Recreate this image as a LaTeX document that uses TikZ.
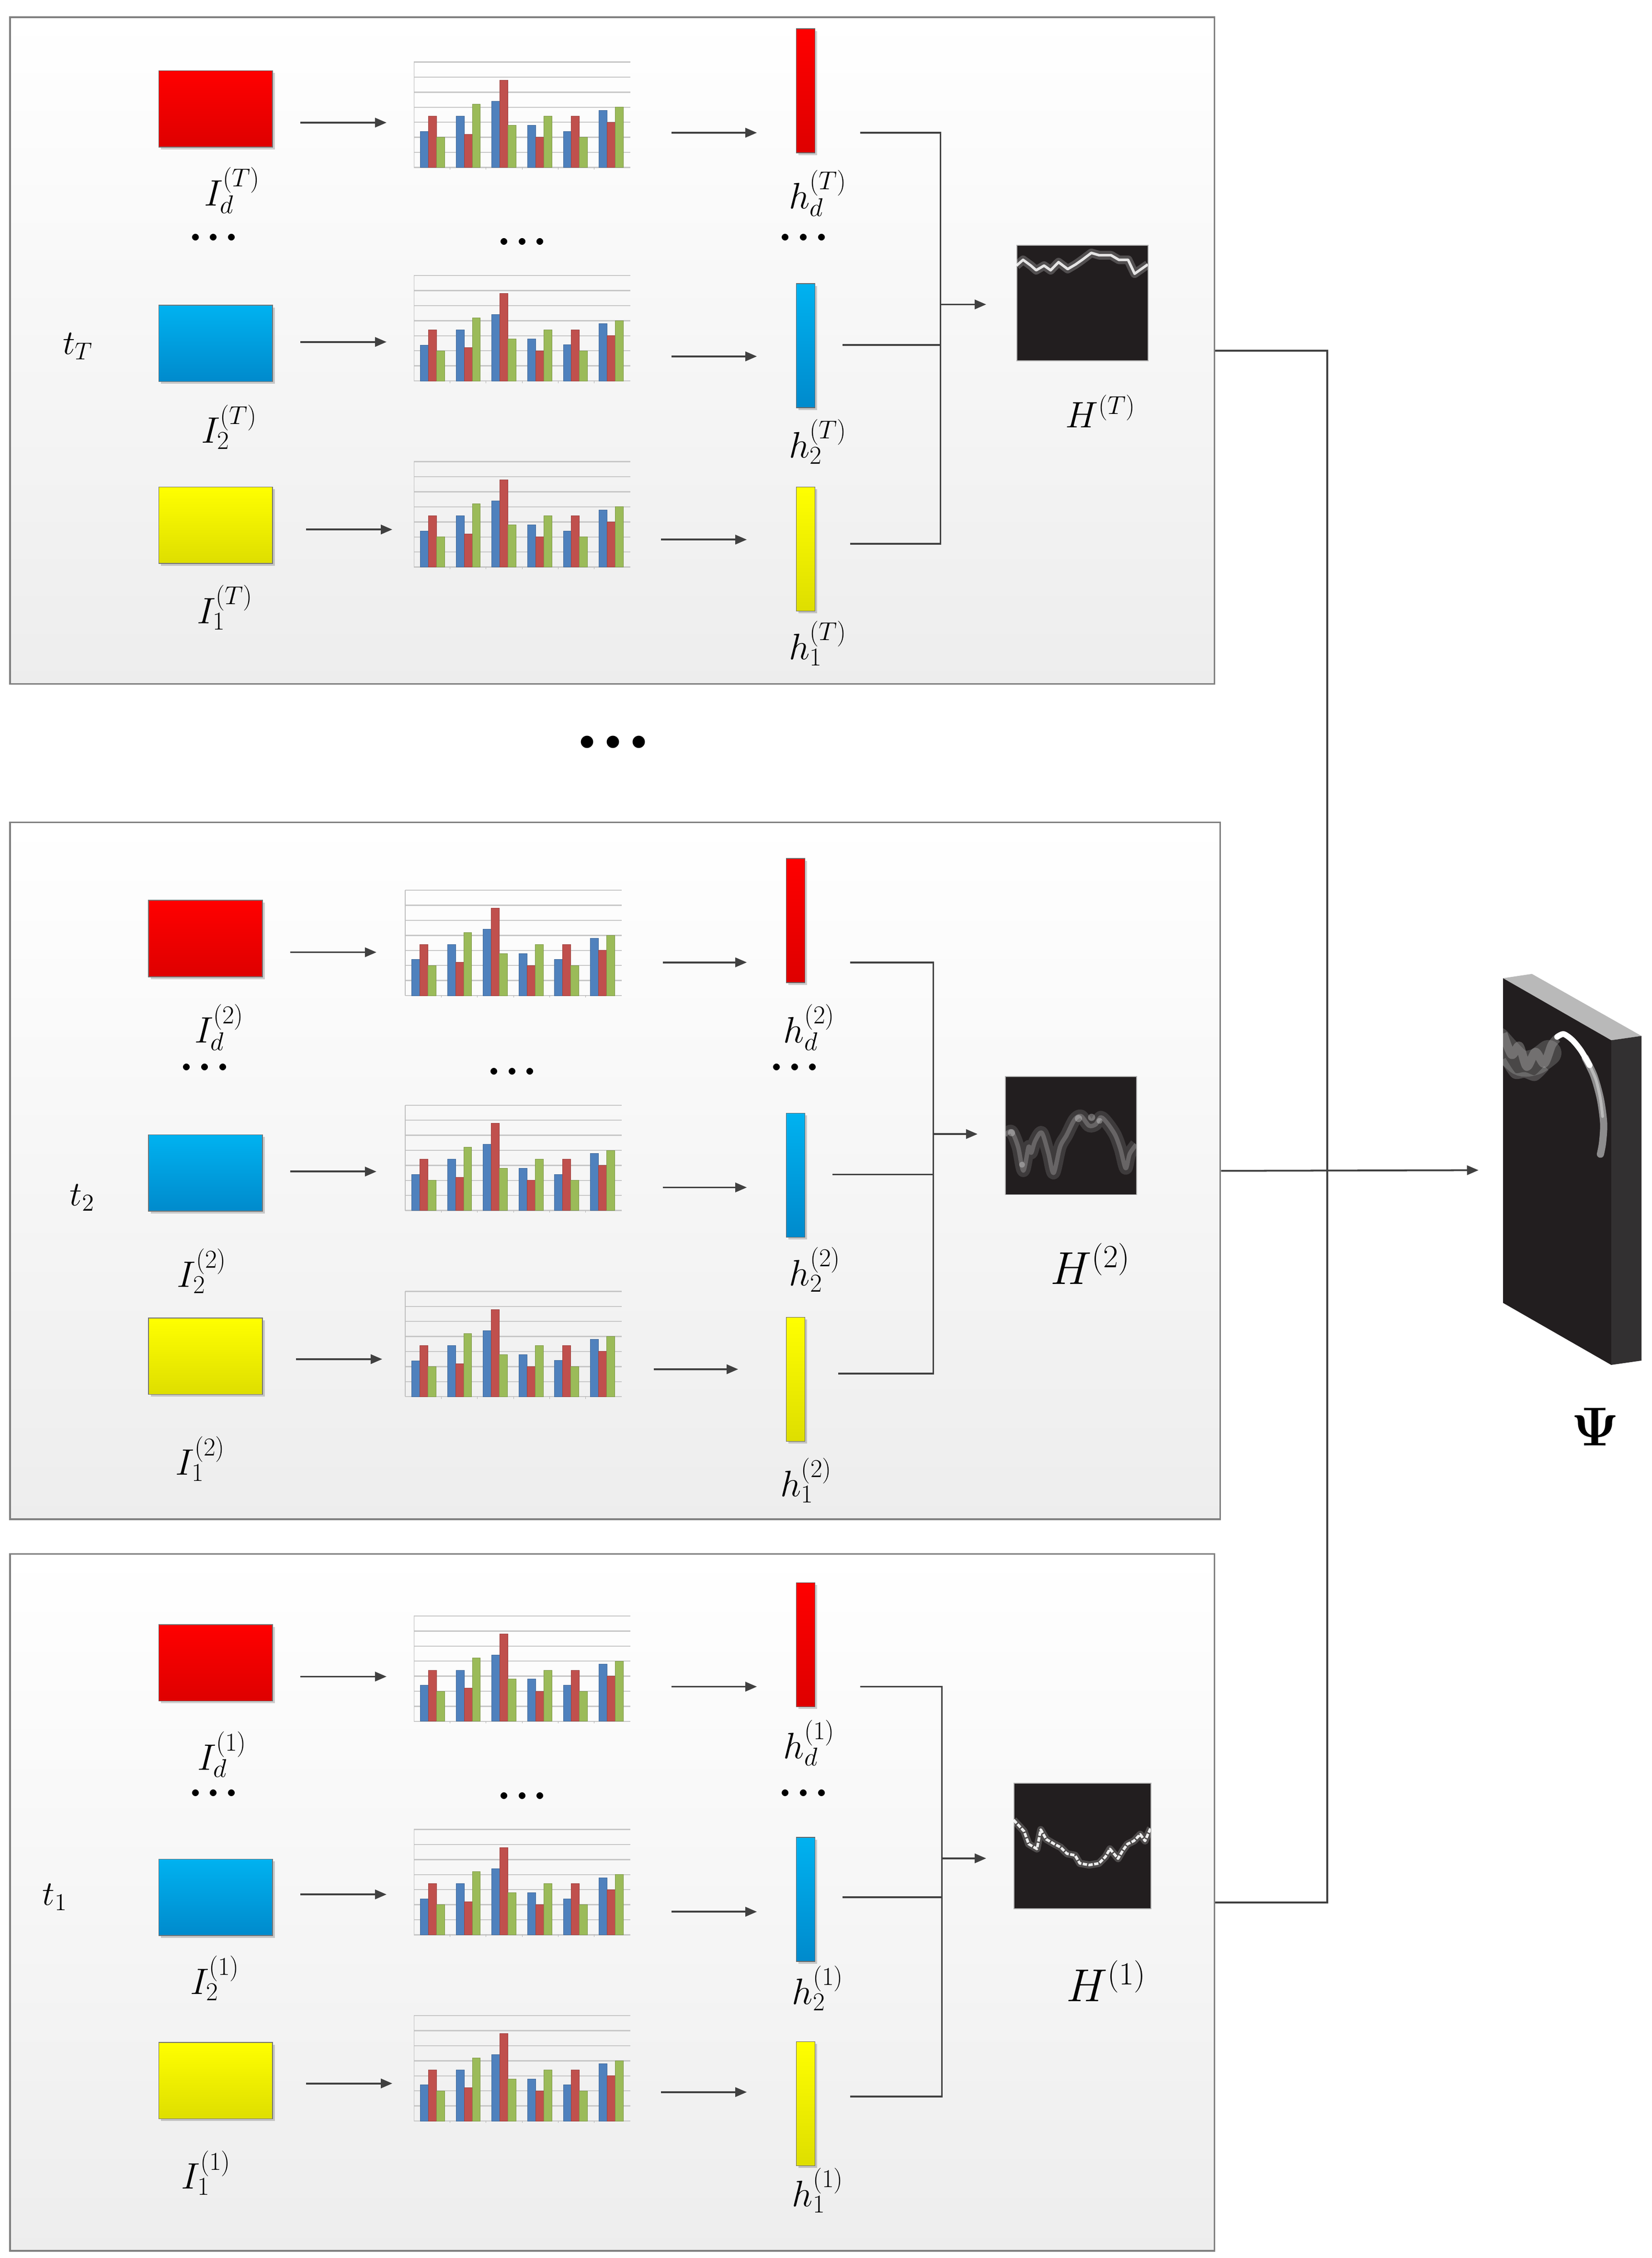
\RequirePackage{fix-cm}
\documentclass[tikz,border=0pt]{standalone}
\usetikzlibrary{arrows.meta,shadows,calc}
\definecolor{cblue}{RGB}{79,129,189}
\definecolor{cred}{RGB}{192,80,77}
\definecolor{cgreen}{RGB}{155,187,89}
\definecolor{redT}{RGB}{255,0,0}
\definecolor{redB}{RGB}{222,0,0}
\definecolor{bluT}{RGB}{0,178,240}
\definecolor{bluB}{RGB}{0,138,204}
\definecolor{yelT}{RGB}{255,255,0}
\definecolor{yelB}{RGB}{222,222,0}
\definecolor{heatdark}{RGB}{34,30,31}
\definecolor{psiside}{RGB}{50,48,49}
\definecolor{psitop}{RGB}{185,185,185}
\tikzset{
  panel/.style={draw=black!50, line width=1.1pt, top color=white, bottom color=black!7, inner sep=0},
  shadowed/.style={drop shadow={shadow xshift=1.6pt, shadow yshift=-1.6pt, opacity=.18, fill=black}},
  imgbox/.style={shadowed, draw=black!55, line width=0.5pt, inner sep=0, minimum width=79pt, minimum height=53pt},
  hbar/.style={shadowed, draw=black!60, line width=0.5pt, inner sep=0, minimum width=13pt, minimum height=86pt},
  redf/.style={top color=redT, bottom color=redB},
  bluf/.style={top color=bluT, bottom color=bluB},
  yelf/.style={top color=yelT, bottom color=yelB},
  heat/.style={fill=heatdark, draw=black!30, line width=0.6pt, inner sep=0},
  chartbox/.style={inner sep=0, minimum width=150pt, minimum height=73pt, anchor=north west},
  conn/.style={draw=black!75, line width=1.25pt},
  arr/.style={conn, -{Triangle[length=8pt,width=6.5pt]}},
  lab/.style={inner sep=0, font=\fontsize{25.5}{30}\selectfont},
  biglab/.style={inner sep=0, font=\fontsize{32}{36}\selectfont},
  tlab/.style={inner sep=0, font=\fontsize{24}{28}\selectfont},
  dotlab/.style={inner sep=0, font=\fontsize{12}{12}\selectfont},
  gridl/.style={draw=black!22, line width=0.8pt},
  barchart/.pic={
    \foreach \i in {0,...,7}{\draw[gridl] (0,{\i*73/7}) -- (150,{\i*73/7});}
    \draw[black!25, line width=0.5pt] (0,0) -- (0,73);
    \foreach \t in {1,...,5}{\draw[black!30, line width=0.4pt] ({\t*25},73) -- ++(0,1.5);}
    \foreach \k/\a/\b/\c in {0/2.39/3.4/2.0,1/3.4/2.2/4.2,2/4.4/5.8/2.8,3/2.8/2.0/3.4,4/2.4/3.4/2.0,5/3.8/3.0/4.0}{
      \pgfmathsetmacro\xs{4.46+\k*24.76}
      \filldraw[fill=cblue, draw=cblue!80!black, line width=0.3pt] (\xs,73) rectangle ++(5.6,{-\a*73/7});
      \filldraw[fill=cred, draw=cred!80!black, line width=0.3pt] ({\xs+5.6},73) rectangle ++(5.6,{-\b*73/7});
      \filldraw[fill=cgreen, draw=cgreen!80!black, line width=0.3pt] ({\xs+11.2},73) rectangle ++(5.6,{-\c*73/7});
    }
  }
}
\newcommand\mydots{$\bullet$\hspace{6.5pt}$\bullet$\hspace{6.5pt}$\bullet$}
\begin{document}
\begin{tikzpicture}[x=1pt,y=-1pt]
\useasboundingbox (0,0) rectangle (1145,1565);
\fill[white] (0,0) rectangle (1145,1565);

% ---------- panels
\node[panel, minimum width=835pt, minimum height=462pt] (pT) at (424.5,243) {};
\node[panel, minimum width=839pt, minimum height=483pt] (p2) at (426.5,811.5) {};
\node[panel, minimum width=835pt, minimum height=483pt] (p1) at (424.5,1318.5) {};

% ================= panel T =================
\node[imgbox, redf] (RdT) at (149.5,75.5) {};
\node[imgbox, bluf] (R2T) at (149.5,238) {};
\node[imgbox, yelf] (R1T) at (149.5,364) {};
\node[chartbox] (CdT) at (287,43) {}; \pic at (CdT.north west) {barchart};
\node[chartbox] (C2T) at (287,191) {}; \pic at (C2T.north west) {barchart};
\node[chartbox] (C1T) at (287,320) {}; \pic at (C1T.north west) {barchart};
\node[hbar, redf] (hdT) at (558.5,63) {};
\node[hbar, bluf] (h2T) at (558.5,239.5) {};
\node[hbar, yelf] (h1T) at (558.5,380.5) {};
\node[heat, minimum width=91pt, minimum height=80pt] (HT) at (750.5,210) {};
\begin{scope}[shift={(HT.north west)}, x=91pt, y=-80pt]
  \clip (0,0) rectangle (1,1);
  \draw[white, opacity=.22, line width=6pt, line join=round] plot coordinates {(0,.18)(.05,.13)(.11,.18)(.15,.22)(.21,.18)(.26,.22)(.32,.15)(.39,.21)(.45,.17)(.50,.13)(.57,.07)(.63,.09)(.72,.09)(.78,.13)(.85,.13)(.90,.25)(1,.17)};
  \draw[white, opacity=.85, line width=1.8pt, line join=round] plot coordinates {(0,.18)(.05,.13)(.11,.18)(.15,.22)(.21,.18)(.26,.22)(.32,.15)(.39,.21)(.45,.17)(.50,.13)(.57,.07)(.63,.09)(.72,.09)(.78,.13)(.85,.13)(.90,.25)(1,.17)};
\end{scope}

\draw[arr] ([xshift=19pt]RdT.east |- 0,85) -- ([xshift=-19pt]CdT.west |- 0,85);
\draw[arr] ([xshift=19pt]R2T.east |- 0,237) -- ([xshift=-19pt]C2T.west |- 0,237);
\draw[arr] ([xshift=23pt]R1T.east |- 0,367) -- ([xshift=-15pt]C1T.west |- 0,367);
\draw[arr] ([xshift=28pt]CdT.east |- 0,92) -- ([xshift=-27pt]hdT.west |- 0,92);
\draw[arr] ([xshift=28pt]C2T.east |- 0,247) -- ([xshift=-27pt]h2T.west |- 0,247);
\draw[arr] ([xshift=21pt]C1T.east |- 0,374) -- ([xshift=-34pt]h1T.west |- 0,374);
\coordinate (jT) at (652,211);
\draw[conn] ([xshift=31pt]hdT.east |- 0,92) -| (jT) |- ([xshift=24pt]h1T.east |- 0,377);
\draw[conn] ([xshift=19pt]h2T.east |- 0,239) -- (jT |- 0,239);
\draw[arr, shorten >=21pt] (jT) -- (jT -| HT.west);

\node[lab] (lIdT) at (161,132) {$I_d^{(T)}$};
\node[lab] (lI2T) at (159,296) {$I_2^{(T)}$};
\node[lab] (lI1T) at (156,421) {$I_1^{(T)}$};
\node[lab] (lhdT) at (567,134) {$h_d^{(T)}$};
\node[lab] (lh2T) at (567,306) {$h_2^{(T)}$};
\node[lab] (lh1T) at (567,446) {$h_1^{(T)}$};
\node[lab] (lHT) at (763,285) {$H^{(T)}$};
\node[tlab] (ltT) at (54,240) {$t_T$};
\node[dotlab] (d1T) at (148,165) {\mydots};
\node[dotlab] (d2T) at (362,168) {\mydots};
\node[dotlab] (d3T) at (557,165) {\mydots};

% big dots between panels
\node[inner sep=0, font=\fontsize{22}{22}\selectfont] (bigdots) at (425,515) {$\bullet$\hspace{7pt}$\bullet$\hspace{7pt}$\bullet$};

% ================= panel 2 =================
\node[imgbox, redf] (Rd2) at (142.5,650.5) {};
\node[imgbox, bluf] (R22) at (142.5,813) {};
\node[imgbox, yelf] (R12) at (142.5,940) {};
\node[chartbox] (Cd2) at (281,617) {}; \pic at (Cd2.north west) {barchart};
\node[chartbox] (C22) at (281,766) {}; \pic at (C22.north west) {barchart};
\node[chartbox] (C12) at (281,895) {}; \pic at (C12.north west) {barchart};
\node[hbar, redf] (hd2) at (551.5,638) {};
\node[hbar, bluf] (h22) at (551.5,814.5) {};
\node[hbar, yelf] (h12) at (551.5,956) {};
\node[heat, minimum width=91pt, minimum height=82pt] (H2) at (742.5,787) {};
\begin{scope}[shift={(H2.north west)}, x=91pt, y=-82pt]
  \clip (0,0) rectangle (1,1);
  \draw[gray!60, opacity=.2, line width=9pt, line join=round] plot[smooth] coordinates {(0,.5)(.05,.47)(.1,.6)(.14,.8)(.18,.6)(.2,.65)(.23,.55)(.28,.48)(.33,.65)(.37,.82)(.42,.6)(.47,.5)(.53,.37)(.58,.34)(.64,.42)(.69,.41)(.73,.35)(.78,.4)(.84,.5)(.88,.62)(.92,.78)(.95,.66)(1,.58)};
  \draw[gray!45, opacity=.3, line width=3pt, line join=round] plot[smooth] coordinates {(0,.5)(.05,.47)(.1,.6)(.14,.8)(.18,.6)(.2,.65)(.23,.55)(.28,.48)(.33,.65)(.37,.82)(.42,.6)(.47,.5)(.53,.37)(.58,.34)(.64,.42)(.69,.41)(.73,.35)(.78,.4)(.84,.5)(.88,.62)(.92,.78)(.95,.66)(1,.58)};
  \fill[white, opacity=.3] (.56,.36) circle (2.5pt) (.66,.35) circle (2.5pt) (.72,.38) circle (2pt) (.13,.75) circle (2pt) (.05,.48) circle (2.5pt);
\end{scope}

\draw[arr] ([xshift=19pt]Rd2.east |- 0,660) -- ([xshift=-20pt]Cd2.west |- 0,660);
\draw[arr] ([xshift=19pt]R22.east |- 0,812) -- ([xshift=-20pt]C22.west |- 0,812);
\draw[arr] ([xshift=23pt]R12.east |- 0,942) -- ([xshift=-16pt]C12.west |- 0,942);
\draw[arr] ([xshift=28pt]Cd2.east |- 0,667) -- ([xshift=-27pt]hd2.west |- 0,667);
\draw[arr] ([xshift=28pt]C22.east |- 0,823) -- ([xshift=-27pt]h22.west |- 0,823);
\draw[arr] ([xshift=22pt]C12.east |- 0,949) -- ([xshift=-33pt]h12.west |- 0,949);
\coordinate (j2) at (647,786);
\draw[conn] ([xshift=31pt]hd2.east |- 0,667) -| (j2) |- ([xshift=23pt]h12.east |- 0,952);
\draw[conn] ([xshift=19pt]h22.east |- 0,814) -- (j2 |- 0,814);
\draw[arr, shorten >=19pt] (j2) -- (j2 -| H2.west);

\node[lab] (lId2) at (152,712) {$I_d^{(2)}$};
\node[lab] (lI22) at (140,881) {$I_2^{(2)}$};
\node[lab] (lI12) at (139,1011) {$I_1^{(2)}$};
\node[lab] (lhd2) at (561,712) {$h_d^{(2)}$};
\node[lab] (lh22) at (565,880) {$h_2^{(2)}$};
\node[lab] (lh12) at (559,1026) {$h_1^{(2)}$};
\node[biglab] (lH2) at (756,876) {$H^{(2)}$};
\node[tlab] (lt2) at (57,830) {$t_2$};
\node[dotlab] (d12) at (142,740) {\mydots};
\node[dotlab] (d22) at (355,743) {\mydots};
\node[dotlab] (d32) at (551,740) {\mydots};

% ================= panel 1 =================
\node[imgbox, redf] (Rd1) at (149.5,1152.5) {};
\node[imgbox, bluf] (R21) at (149.5,1315) {};
\node[imgbox, yelf] (R11) at (149.5,1442) {};
\node[chartbox] (Cd1) at (287,1120) {}; \pic at (Cd1.north west) {barchart};
\node[chartbox] (C21) at (287,1268) {}; \pic at (C21.north west) {barchart};
\node[chartbox] (C11) at (287,1397) {}; \pic at (C11.north west) {barchart};
\node[hbar, redf] (hd1) at (558.5,1140) {};
\node[hbar, bluf] (h21) at (558.5,1316.5) {};
\node[hbar, yelf] (h11) at (558.5,1458) {};
\node[heat, minimum width=95pt, minimum height=87pt] (H1) at (750.5,1279.5) {};
\begin{scope}[shift={(H1.north west)}, x=95pt, y=-87pt]
  \clip (0,0) rectangle (1,1);
  \draw[white, opacity=.2, line width=5pt, line join=round] plot coordinates {(0,.295)(.076,.385)(.11,.487)(.17,.526)(.198,.372)(.238,.449)(.297,.487)(.343,.513)(.39,.564)(.448,.577)(.483,.641)(.552,.654)(.622,.641)(.669,.590)(.703,.526)(.762,.603)(.797,.538)(.831,.487)(.878,.462)(.924,.410)(.959,.462)(1,.359)};
  \draw[white, opacity=.9, line width=1.8pt, line join=round, dash pattern=on 3pt off 1pt] plot coordinates {(0,.295)(.076,.385)(.11,.487)(.17,.526)(.198,.372)(.238,.449)(.297,.487)(.343,.513)(.39,.564)(.448,.577)(.483,.641)(.552,.654)(.622,.641)(.669,.590)(.703,.526)(.762,.603)(.797,.538)(.831,.487)(.878,.462)(.924,.410)(.959,.462)(1,.359)};
\end{scope}

\draw[arr] ([xshift=19pt]Rd1.east |- 0,1162) -- ([xshift=-19pt]Cd1.west |- 0,1162);
\draw[arr] ([xshift=19pt]R21.east |- 0,1313) -- ([xshift=-19pt]C21.west |- 0,1313);
\draw[arr] ([xshift=23pt]R11.east |- 0,1444) -- ([xshift=-15pt]C11.west |- 0,1444);
\draw[arr] ([xshift=28pt]Cd1.east |- 0,1169) -- ([xshift=-27pt]hd1.west |- 0,1169);
\draw[arr] ([xshift=28pt]C21.east |- 0,1325) -- ([xshift=-27pt]h21.west |- 0,1325);
\draw[arr] ([xshift=21pt]C11.east |- 0,1450) -- ([xshift=-34pt]h11.west |- 0,1450);
\coordinate (j1) at (653,1288);
\draw[conn] ([xshift=31pt]hd1.east |- 0,1169) -| (j1) |- ([xshift=24pt]h11.east |- 0,1453);
\draw[conn] ([xshift=19pt]h21.east |- 0,1315) -- (j1 |- 0,1315);
\draw[arr, shorten >=19pt] (j1) -- (j1 -| H1.west);

\node[lab] (lId1) at (154,1216) {$I_d^{(1)}$};
\node[lab] (lI21) at (149,1371) {$I_2^{(1)}$};
\node[lab] (lI11) at (143,1506) {$I_1^{(1)}$};
\node[lab] (lhd1) at (561,1208) {$h_d^{(1)}$};
\node[lab] (lh21) at (567,1378) {$h_2^{(1)}$};
\node[lab] (lh11) at (567,1518) {$h_1^{(1)}$};
\node[biglab] (lH1) at (767,1373) {$H^{(1)}$};
\node[tlab] (lt1) at (38,1315) {$t_1$};
\node[dotlab] (d11) at (148,1243) {\mydots};
\node[dotlab] (d21) at (362,1245) {\mydots};
\node[dotlab] (d31) at (557,1243) {\mydots};

% ================= Psi block =================
\fill[psitop] (1042,678) -- (1062,675) -- (1138,718) -- (1117,721) -- cycle;
\fill[psiside] (1117,721) -- (1138,718) -- (1138,943) -- (1117,946) -- cycle;
\begin{scope}[shift={(1042,678)}, x={(75pt,-43pt)}, y={(0pt,-225pt)}]
  \fill[heatdark] (0,0) -- (1,0) -- (1,1) -- (0,1) -- cycle;
  \clip (0,0) -- (1,0) -- (1,1) -- (0,1) -- cycle;
  \draw[gray!70, opacity=.3, line width=18pt, line cap=round] plot[smooth] coordinates {(-.05,.2)(.15,.23)(.3,.2)(.42,.15)};
  \draw[gray!50, opacity=.35, line width=6pt, line join=round] plot[smooth] coordinates {(0,.17)(.08,.22)(.15,.18)(.22,.23)(.3,.17)(.38,.19)(.45,.12)(.5,.09)};
  \draw[gray!40, opacity=.25, line width=4pt, line join=round] plot[smooth] coordinates {(0,.25)(.1,.28)(.2,.26)(.3,.25)(.4,.2)};
  \draw[gray!60, opacity=.75, line width=5pt, line cap=round] plot[smooth] coordinates {(.76,.1)(.84,.14)(.9,.2)(.93,.27)(.92,.33)(.9,.37)};
  \draw[gray!30, opacity=.6, line width=2pt, line cap=round] plot[smooth] coordinates {(.8,.115)(.86,.15)(.9,.2)(.92,.25)};
  \draw[white, line width=4pt, line cap=round] plot[smooth] coordinates {(.5,.085)(.56,.065)(.64,.068)(.72,.085)(.8,.115)};
\end{scope}
\coordinate (psiL) at (1042,811);
\node[inner sep=0, font=\fontsize{38}{38}\selectfont] (psiLab) at (1106,989) {$\mathbf{\Psi}$};

% ================= right side connectors =================
\coordinate (bus) at (920,811);
\draw[conn] (pT.east) -| (bus) |- (p1.east);
\draw[arr, shorten >=17pt] (p2.east) -- (psiL);
\end{tikzpicture}
\end{document}
